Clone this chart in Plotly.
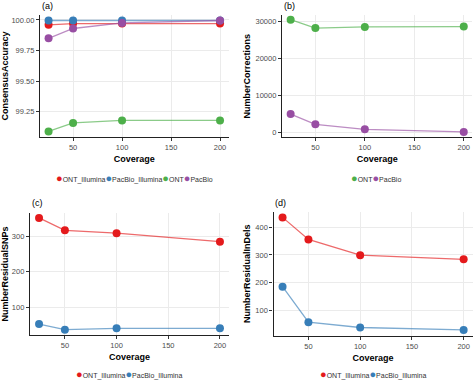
import plotly.graph_objects as go

W, H = 474, 381

coverage = [25, 50, 100, 200]
x_ticks = [50, 100, 150, 200]

# (a) Consensus accuracy
acc_ont_illumina = [99.96, 99.97, 99.97, 99.97]
acc_pacbio_illumina = [99.995, 99.995, 99.995, 99.995]
acc_ont = [99.09, 99.16, 99.18, 99.18]
acc_pacbio = [99.85, 99.93, 99.975, 99.995]
acc_ticks = [99.25, 99.50, 99.75, 100.00]

# (b) Number of corrections
corr_ont = [30350, 28100, 28400, 28500]
corr_pacbio = [5000, 2250, 900, 200]
corr_ticks = [0, 10000, 20000, 30000]

# (c) Residual SNPs
snps_ont_illumina = [352, 317, 309, 285]
snps_pacbio_illumina = [52, 36, 40, 40]
snps_ticks = [100, 200, 300]

# (d) Residual InDels
indels_ont_illumina = [436, 356, 299, 284]
indels_pacbio_illumina = [185, 56, 37, 28]
indels_ticks = [100, 200, 300, 400]

COL = {
    "ONT_Illumina": "#E41A1C",
    "PacBio_Illumina": "#377EB8",
    "ONT": "#4DAF4A",
    "PacBio": "#984EA3",
}


def rgba(hexc, a):
    h = hexc.lstrip("#")
    r, g, b = int(h[0:2], 16), int(h[2:4], 16), int(h[4:6], 16)
    return f"rgba({r},{g},{b},{a})"


FONT = "Liberation Sans, Arial, sans-serif"

fig = go.Figure()

panels = [
    ("", [("ONT_Illumina", acc_ont_illumina), ("PacBio_Illumina", acc_pacbio_illumina),
          ("ONT", acc_ont), ("PacBio", acc_pacbio)],
     (40, 228.6, 15, 137), [99.045, 100.04], acc_ticks, "ConsensusAccuracy", ".2f"),
    ("2", [("ONT", corr_ont), ("PacBio", corr_pacbio)],
     (282, 472.4, 15, 137.3), [-1236, 31611], corr_ticks, "NumberCorrections", "d"),
    ("3", [("ONT_Illumina", snps_ont_illumina), ("PacBio_Illumina", snps_pacbio_illumina)],
     (30, 229, 213, 335), [21, 366], snps_ticks, "NumberResidualSNPs", "d"),
    ("4", [("ONT_Illumina", indels_ont_illumina), ("PacBio_Illumina", indels_pacbio_illumina)],
     (273.5, 472.7, 211.7, 335.7), [7.2, 456.6], indels_ticks, "NumberResidualInDels", "d"),
]

for suf, series, box, yr, yt, ytitle, yfmt in panels:
    x0, x1, yt0, yb = box
    for name, vals in series:
        fig.add_trace(go.Scatter(
            x=coverage, y=vals, mode="lines+markers", name=name,
            xaxis="x" + suf, yaxis="y" + suf, showlegend=False,
            line=dict(color=rgba(COL[name], 0.65), width=1.3),
            marker=dict(color=COL[name], size=8, line=dict(width=0)),
        ))
    common = dict(
        showline=True, linecolor="#222222", linewidth=1.3,
        ticks="outside", ticklen=3, tickcolor="#333333", tickwidth=1,
        showgrid=True, gridcolor="#EBEBEB", gridwidth=0.7, zeroline=False,
        tickfont=dict(family=FONT, size=7.5, color="#4D4D4D"),
    )
    fig.layout["xaxis" + suf] = dict(
        domain=[x0 / W, x1 / W], anchor="y" + suf, range=[16.25, 208.75],
        tickvals=x_ticks,
        title=dict(text="<b>Coverage</b>", font=dict(family=FONT, size=9, color="black"), standoff=4),
        **common,
    )
    fig.layout["yaxis" + suf] = dict(
        domain=[1 - yb / H, 1 - yt0 / H], anchor="x" + suf, range=yr,
        tickvals=yt, tickformat=yfmt,
        title=dict(text="<b>" + ytitle + "</b>", font=dict(family=FONT, size=9, color="black"), standoff=3),
        **common,
    )

annotations = []
labels = [("(a)", 40, 6), ("(b)", 282, 6), ("(c)", 30, 203), ("(d)", 273, 203)]
for t, xp, yp in labels:
    annotations.append(dict(text=t, x=xp / W, y=1 - yp / H, xref="paper", yref="paper",
                            xanchor="left", yanchor="middle", showarrow=False,
                            font=dict(family=FONT, size=9, color="black")))


def legend_text(names):
    parts = []
    for n in names:
        parts.append(f'<span style="color:{COL[n]};font-size:11px">●</span>{n}')
    return "".join(parts)


legends = [
    (["ONT_Illumina", "PacBio_Illumina", "ONT", "PacBio"], 134, 178.3),
    (["ONT_Illumina", "PacBio_Illumina"], 129, 373.5),
    (["ONT_Illumina", "PacBio_Illumina"], 373, 373.5),
    (["ONT", "PacBio"], 376, 178.3),
]
for names, xc, yc in legends:
    annotations.append(dict(text=legend_text(names), x=xc / W, y=1 - yc / H,
                            xref="paper", yref="paper", xanchor="center", yanchor="middle",
                            showarrow=False, borderpad=0,
                            font=dict(family=FONT, size=7, color="#333333")))

fig.update_layout(
    width=W, height=H, margin=dict(l=0, r=0, t=0, b=0),
    paper_bgcolor="white", plot_bgcolor="white",
    annotations=annotations, showlegend=False,
)

fig.write_html("out.html", config={"displayModeBar": False},
               post_script="document.body.style.margin='0';document.body.style.overflow='hidden';")
